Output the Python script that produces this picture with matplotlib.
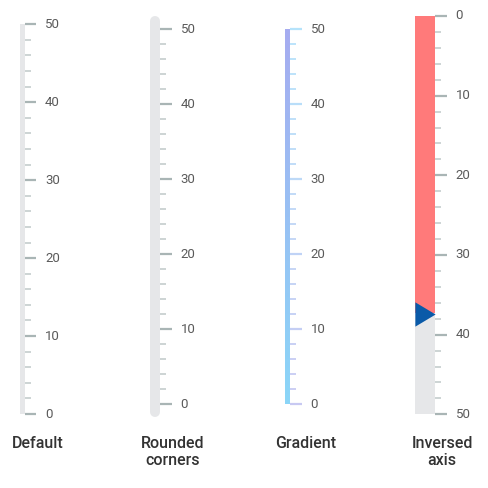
"""Linear gauge variants: default, rounded corners, gradient and inversed axis."""

import matplotlib.pyplot as plt
from matplotlib.colors import LinearSegmentedColormap
from matplotlib.path import Path
import numpy as np

W, H = 488, 488

GAUGE_TITLES = ["Default", "Rounded\ncorners", "Gradient", "Inversed\naxis"]
AXIS_MIN, AXIS_MAX = 0, 50
MAJOR_TICKS = [0, 10, 20, 30, 40, 50]
MINOR_TICKS = [2, 4, 6, 8, 12, 14, 16, 18, 22, 24, 26, 28, 32, 34, 36, 38, 42, 44, 46, 48]
INVERSED_BAR_VALUE = 37.3
INVERSED_POINTER_VALUE = 37.4

TRACK = "#e6e7e9"
MAJOR_TICK = "#a9b5b5"
MINOR_TICK = "#c9d1d1"
LABEL = "#5a5a5a"
TITLE = "#333333"
GRAD_TOP = "#a6acf0"
GRAD_BOTTOM = "#8bd6f8"
TICK_GRAD_TOP = "#b5e3fb"
TICK_GRAD_BOTTOM = "#c8c9f2"
RED = "#ff7a7a"
POINTER = "#0a5aa8"

plt.rcParams["font.family"] = ["Roboto", "DejaVu Sans"]


def gauge_axes(fig, left_px, top_px, bottom_px, width_px=70, inverted=False):
    # y axis in gauge units, x axis in pixels from the bar's left edge
    ax = fig.add_axes([left_px / W, 1 - bottom_px / H, width_px / W, (bottom_px - top_px) / H])
    ax.set_xlim(0, width_px)
    if inverted:
        ax.set_ylim(AXIS_MAX, AXIS_MIN)
    else:
        ax.set_ylim(AXIS_MIN, AXIS_MAX)
    ax.axis("off")
    return ax


def draw_ticks(ax, x0, major_len, label_x, major_colors=None, minor_colors=None):
    major_colors = major_colors or [MAJOR_TICK] * len(MAJOR_TICKS)
    minor_colors = minor_colors or [MINOR_TICK] * len(MINOR_TICKS)
    for v, c in zip(MAJOR_TICKS, major_colors):
        ax.plot([x0, x0 + major_len], [v, v], color=c, lw=1.6, clip_on=False, solid_capstyle="butt")
        ax.text(label_x, v, str(v), ha="left", va="center", fontsize=9.5, color=LABEL)
    for v, c in zip(MINOR_TICKS, minor_colors):
        ax.plot([x0, x0 + 6], [v, v], color=c, lw=1.3, clip_on=False, solid_capstyle="butt")


def main():
    fig = plt.figure(figsize=(W / 100, H / 100), dpi=100)

    # default
    ax = gauge_axes(fig, 20, 24.3, 414)
    ax.bar(2.5, AXIS_MAX - AXIS_MIN, width=5, bottom=AXIS_MIN, color=TRACK, clip_on=False)
    draw_ticks(ax, 5, 11, 25)

    # rounded corners
    ax = gauge_axes(fig, 150, 29.3, 404.3)
    ax.plot([5, 5], [AXIS_MIN - 1.0, AXIS_MAX + 1.1], color=TRACK, lw=7.2,
            solid_capstyle="round", clip_on=False)
    draw_ticks(ax, 10, 11.7, 30.7)

    # gradient
    ax = gauge_axes(fig, 285, 29.3, 404.3)
    bar_cmap = LinearSegmentedColormap.from_list("bar", [GRAD_BOTTOM, GRAD_TOP])
    ax.imshow(np.linspace(0, 1, 256).reshape(-1, 1), cmap=bar_cmap, origin="lower",
              extent=[0, 5, AXIS_MIN, AXIS_MAX], aspect="auto")
    ax.set_xlim(0, 70)
    ax.set_ylim(AXIS_MIN, AXIS_MAX)
    tick_cmap = LinearSegmentedColormap.from_list("ticks", [TICK_GRAD_BOTTOM, TICK_GRAD_TOP])
    draw_ticks(ax, 5, 12, 25.7,
               [tick_cmap(v / AXIS_MAX) for v in MAJOR_TICKS],
               [tick_cmap(v / AXIS_MAX) for v in MINOR_TICKS])

    # inversed axis
    ax = gauge_axes(fig, 415, 16, 414.3, inverted=True)
    ax.bar(10, AXIS_MAX - AXIS_MIN, width=20, bottom=AXIS_MIN, color=TRACK, clip_on=False)
    ax.bar(10, INVERSED_BAR_VALUE - AXIS_MIN, width=20, bottom=AXIS_MIN, color=RED, clip_on=False)
    tri = Path([(-1, -1.2), (1, 0), (-1, 1.2), (-1, -1.2)],
               [Path.MOVETO, Path.LINETO, Path.LINETO, Path.CLOSEPOLY])
    ax.plot(10, INVERSED_POINTER_VALUE, marker=tri, markersize=17.5, color=POINTER,
            markeredgewidth=0, clip_on=False)
    draw_ticks(ax, 20, 11.7, 40.7)

    title_x = [38, 173, 306, 442]
    for x, title in zip(title_x, GAUGE_TITLES):
        fig.text(x / W, 1 - 436 / H, title, ha="center", va="top", fontsize=11.5,
                 fontweight="medium", color=TITLE, linespacing=1.2)

    fig.savefig("out.png", dpi=100)
    plt.close(fig)


if __name__ == "__main__":
    main()
